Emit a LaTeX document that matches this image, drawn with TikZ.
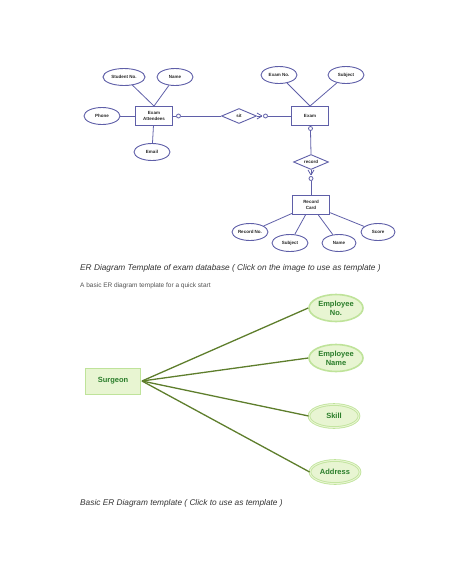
\documentclass[tikz,border=0pt]{standalone}
\usepackage{fontspec}
\setmainfont{Liberation Sans}
\usetikzlibrary{shapes.geometric,calc}
\definecolor{erline}{HTML}{5F5FA8}
\definecolor{gfill}{HTML}{E8F5D2}
\definecolor{gborder}{HTML}{BFE39A}
\definecolor{gtext}{HTML}{2A7D2A}
\definecolor{gline}{HTML}{5E7E2C}
\definecolor{captxt}{HTML}{333333}
\tikzset{
  attr/.style={draw=erline, line width=0.9pt, ellipse, fill=white, minimum width=#1, minimum height=17pt, inner sep=0pt, font=\fontsize{4.5}{5}\selectfont\bfseries, text=black!85},
  attr/.default=36pt,
  ent/.style={draw=erline, line width=0.9pt, rectangle, fill=white, minimum width=37pt, minimum height=19pt, inner sep=0pt, align=center, font=\fontsize{4.5}{5.6}\selectfont\bfseries, text=black!85},
  rel/.style={draw=erline, line width=0.9pt, diamond, aspect=2.3, fill=white, minimum width=35pt, minimum height=15pt, inner sep=0pt, font=\fontsize{4.5}{5}\selectfont\bfseries, text=black!85},
  ln/.style={draw=erline, line width=0.8pt},
  gent/.style={draw=gborder, line width=1pt, fill=gfill, minimum width=55pt, minimum height=26pt, inner sep=0pt, font=\fontsize{7.5}{8.5}\selectfont\bfseries, text=gtext},
  gattr/.style={draw=gborder, line width=1.6pt, ellipse, fill=gfill, minimum width=54pt, minimum height=27pt, inner sep=0pt, align=center, font=\fontsize{7.5}{8.8}\selectfont\bfseries, text=gtext},
  gattrd/.style={gattr, double=gfill, double distance=1pt, line width=0.8pt, minimum width=50pt, minimum height=23pt},
  gln/.style={draw=gline, line width=1.3pt},
  captext/.style={anchor=west, inner sep=0pt, text=captxt, font=\fontsize{8.3}{9.5}\selectfont\itshape},
}
\begin{document}
\begin{tikzpicture}[x=1pt,y=-1pt]
\useasboundingbox (0,0) rectangle (474,576);
% top ER diagram
\node[ent] (att) at (154,116) {Exam\\Attendees};
\node[attr=42pt] (stu) at (124,77) {Student No.};
\node[attr] (nm1) at (175,77) {Name};
\node[attr] (ph) at (102,116) {Phone};
\node[attr] (em) at (152,152) {Email};
\node[rel] (sit) at (239,116) {sit};
\node[ent] (exam) at (310,116) {Exam};
\node[attr] (eno) at (279,75) {Exam No.};
\node[attr] (sub1) at (346,75) {Subject};
\node[rel] (rec) at (311,162) {record};
\node[ent] (card) at (311,205) {Record\\Card};
\node[attr] (rno) at (250,232) {Record No.};
\node[attr] (sub2) at (290,243) {Subject};
\node[attr=34pt] (nm2) at (339,243) {Name};
\node[attr=34pt] (sc) at (378,232) {Score};

\draw[ln] (stu) -- (att.north);
\draw[ln] (nm1) -- (att.north);
\draw[ln] (ph) -- (att);
\draw[ln] (em) -- (att);
\draw[ln] (eno) -- (exam.north);
\draw[ln] (sub1) -- (exam.north);
\draw[ln] (card) -- (rno);
\draw[ln] (card) -- (sub2);
\draw[ln] (card) -- (nm2);
\draw[ln] (card) -- (sc);

% attendees - sit
\coordinate (c1) at (178.5,116);
\draw[ln] (att.east) -- ++(3.5,0);
\draw[ln] (c1) ++(2,0) -- (sit.west);
\draw[ln, fill=white] (c1) circle (2pt);
% sit - exam
\coordinate (f1) at (262,116);
\coordinate (c2) at (265.5,116);
\draw[ln] (sit.east) -- (f1);
\draw[ln] (f1) -- ($(sit.east)+(0,-3)$) (f1) -- ($(sit.east)+(0,3)$);
\draw[ln] (c2) ++(2,0) -- (exam.west);
\draw[ln, fill=white] (c2) circle (2pt);
% exam - record
\coordinate (c3) at (310.5,128.5);
\draw[ln] (c3) ++(0,2) -- (rec.north);
\draw[ln] (exam.south) ++(0.5,0) -- ++(0,1.5);
\draw[ln, fill=white] (c3) circle (2pt);
% record - card
\coordinate (f2) at (311,175);
\coordinate (c4) at (311,178.5);
\draw[ln] (rec.south) -- (f2);
\draw[ln] (f2) -- ($(rec.south)+(-3,0)$) (f2) -- ($(rec.south)+(3,0)$);
\draw[ln] (c4) ++(0,2) -- (card.north);
\draw[ln, fill=white] (c4) circle (2pt);

\node[captext] (cap1) at (80,268) {ER Diagram Template of exam database ( Click on the image to use as template )};
\node[anchor=west, inner sep=0pt, text=captxt!85, font=\fontsize{6.5}{7}\selectfont] (sub) at (80,286) {A basic ER diagram template for a quick start};

% bottom ER diagram
\node[gent] (sur) at (113,381) {Surgeon};
\node[gattr] (en) at (336,308) {Employee\\No.};
\node[gattr] (ename) at (336,358) {Employee\\Name};
\node[gattrd] (sk) at (334,416) {Skill};
\node[gattrd] (ad) at (335,472) {Address};
\coordinate (sp) at (142,381);
\draw[gln] (sp) -- (en.west);
\draw[gln] (sp) -- (ename.west);
\draw[gln] (sp) -- (sk.west);
\draw[gln] (sp) -- (ad.west);

\node[captext] (cap2) at (80,503) {Basic ER Diagram template ( Click to use as template )};
\end{tikzpicture}
\end{document}
